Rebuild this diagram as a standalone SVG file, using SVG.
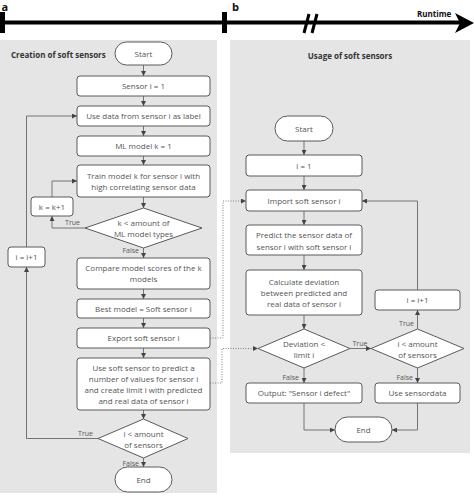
<svg xmlns="http://www.w3.org/2000/svg" width="474" height="496" viewBox="0 0 474 496">
<defs>
<style>
.panel{fill:#e5e5e5}
.box{fill:#fff;stroke:#5a5a5a;stroke-width:1}
.t{font-family:"Open Sans","Liberation Sans",sans-serif;font-size:8px;fill:#555;text-anchor:middle}
.lbl{font-family:"Open Sans","Liberation Sans",sans-serif;font-size:7px;fill:#555}
.title{font-family:"Open Sans","Liberation Sans",sans-serif;font-size:8px;font-weight:bold;fill:#333}
.ax{font-family:"Open Sans","Liberation Sans",sans-serif;font-weight:bold;fill:#111}
.c{fill:none;stroke:#666;stroke-width:0.9}
.d{fill:none;stroke:#777;stroke-width:0.9;stroke-dasharray:1 1.5}
</style>
<marker id="ah" viewBox="0 0 6 6" refX="6" refY="3" markerWidth="5" markerHeight="5" markerUnits="userSpaceOnUse" orient="auto">
<path d="M0,0 L6,3 L0,6 Z" fill="#444"/>
</marker>
</defs>

<g id="axis">
<line x1="2" y1="22.5" x2="464" y2="22.5" stroke="#000" stroke-width="4"/>
<rect x="0" y="12" width="5" height="21" fill="#000"/>
<rect x="222" y="12" width="5" height="21" fill="#000"/>
<line x1="304" y1="33" x2="309" y2="14" stroke="#000" stroke-width="3"/>
<line x1="312" y1="33" x2="317" y2="14" stroke="#000" stroke-width="3"/>
<path d="M455,13 L474,23 L455,33 L460,23 Z" fill="#000"/>
<text class="ax" x="1.5" y="10.5" font-size="11">a</text>
<text class="ax" x="232" y="10.5" font-size="11">b</text>
<text class="ax" x="417" y="17" font-size="8">Runtime</text>
</g>

<g id="panels">
<rect class="panel" x="0" y="40" width="217" height="453"/>
<rect class="panel" x="230" y="40" width="240" height="413"/>
<text class="title" x="11" y="58">Creation of soft sensors</text>
<text class="title" x="350" y="59" text-anchor="middle">Usage of soft sensors</text>
</g>

<g id="connectors">
<line class="c" x1="143.5" y1="65" x2="143.5" y2="76" marker-end="url(#ah)"/>
<line class="c" x1="143.5" y1="96" x2="143.5" y2="106" marker-end="url(#ah)"/>
<line class="c" x1="143.5" y1="126" x2="143.5" y2="136" marker-end="url(#ah)"/>
<line class="c" x1="143.5" y1="156" x2="143.5" y2="165" marker-end="url(#ah)"/>
<line class="c" x1="143.5" y1="197" x2="143.5" y2="208" marker-end="url(#ah)"/>
<line class="c" x1="143.5" y1="248" x2="143.5" y2="258" marker-end="url(#ah)"/>
<line class="c" x1="143.5" y1="289" x2="143.5" y2="299" marker-end="url(#ah)"/>
<line class="c" x1="143.5" y1="318" x2="143.5" y2="328" marker-end="url(#ah)"/>
<line class="c" x1="143.5" y1="348" x2="143.5" y2="358" marker-end="url(#ah)"/>
<line class="c" x1="143.5" y1="410" x2="143.5" y2="419" marker-end="url(#ah)"/>
<line class="c" x1="143.5" y1="458" x2="143.5" y2="467" marker-end="url(#ah)"/>
<polyline class="c" points="85,228 52,228 52,216" marker-end="url(#ah)"/>
<polyline class="c" points="52,197 52,181 77,181" marker-end="url(#ah)"/>
<polyline class="c" points="98,438.5 26.5,438.5 26.5,267" marker-end="url(#ah)"/>
<polyline class="c" points="26.5,247 26.5,116 77,116" marker-end="url(#ah)"/>
<text class="lbl" x="80" y="225" text-anchor="end">True</text>
<text class="lbl" x="139" y="253" text-anchor="end">False</text>
<text class="lbl" x="93" y="436" text-anchor="end">True</text>
<text class="lbl" x="139" y="465.5" text-anchor="end">False</text>

<polyline class="d" points="210,338 223,338 223,201 246,201" marker-end="url(#ah)"/>
<polyline class="d" points="210,383 222,383 222,348.5 258,348.5" marker-end="url(#ah)"/>

<line class="c" x1="304" y1="141" x2="304" y2="155" marker-end="url(#ah)"/>
<line class="c" x1="304" y1="176" x2="304" y2="190" marker-end="url(#ah)"/>
<line class="c" x1="304" y1="211" x2="304" y2="225" marker-end="url(#ah)"/>
<line class="c" x1="304" y1="255" x2="304" y2="270" marker-end="url(#ah)"/>
<line class="c" x1="304" y1="315" x2="304" y2="329" marker-end="url(#ah)"/>
<line class="c" x1="304" y1="368" x2="304" y2="383" marker-end="url(#ah)"/>
<line class="c" x1="350" y1="348.5" x2="371" y2="348.5" marker-end="url(#ah)"/>
<line class="c" x1="417.5" y1="329" x2="417.5" y2="310" marker-end="url(#ah)"/>
<line class="c" x1="417.5" y1="368" x2="417.5" y2="383" marker-end="url(#ah)"/>
<polyline class="c" points="417.5,290 417.5,201 362,201" marker-end="url(#ah)"/>
<polyline class="c" points="304,403 304,430 335,430" marker-end="url(#ah)"/>
<polyline class="c" points="417.5,403 417.5,430 392,430" marker-end="url(#ah)"/>
<text class="lbl" x="360" y="346" text-anchor="middle">True</text>
<text class="lbl" x="414" y="326" text-anchor="end">True</text>
<text class="lbl" x="299" y="380" text-anchor="end">False</text>
<text class="lbl" x="413" y="380" text-anchor="end">False</text>
</g>

<g id="a_start"><rect class="box" x="115" y="42" width="57" height="23" rx="11.5"/><text class="t" x="143.5" y="56.5">Start</text></g>
<g id="a_sensor1"><rect class="box" x="77" y="76" width="133" height="20" rx="3"/><text class="t" x="143.5" y="89">Sensor i = 1</text></g>
<g id="a_usedata"><rect class="box" x="77" y="106" width="133" height="20" rx="3"/><text class="t" x="143.5" y="119">Use data from sensor i as label</text></g>
<g id="a_ml1"><rect class="box" x="77" y="136" width="133" height="20" rx="3"/><text class="t" x="143.5" y="149">ML model k = 1</text></g>
<g id="a_train"><rect class="box" x="77" y="165" width="133" height="32" rx="3"/><text class="t" x="143.5" y="178.5">Train model k for sensor i with</text><text class="t" x="143.5" y="189.5">high correlating sensor data</text></g>
<g id="a_kdec"><polygon class="box" points="143.5,208 202,228 143.5,248 85,228"/><text class="t" x="143.5" y="225.5">k &lt; amount of</text><text class="t" x="143.5" y="236.5">ML model types</text></g>
<g id="a_kinc"><rect class="box" x="31" y="197" width="42" height="19" rx="3"/><text class="t" x="52" y="209.5">k = k+1</text></g>
<g id="a_iinc"><rect class="box" x="8" y="247" width="37" height="20" rx="3"/><text class="t" x="26.5" y="260">i = i+1</text></g>
<g id="a_compare"><rect class="box" x="77" y="258" width="133" height="31" rx="3"/><text class="t" x="143.5" y="271">Compare model scores of the k</text><text class="t" x="143.5" y="282">models</text></g>
<g id="a_best"><rect class="box" x="77" y="299" width="133" height="19" rx="3"/><text class="t" x="143.5" y="311.5">Best model = Soft sensor i</text></g>
<g id="a_export"><rect class="box" x="77" y="328" width="133" height="20" rx="3"/><text class="t" x="143.5" y="341">Export soft sensor i</text></g>
<g id="a_predict"><rect class="box" x="77" y="358" width="133" height="52" rx="3"/><text class="t" x="143.5" y="371">Use soft sensor to predict a</text><text class="t" x="143.5" y="382">number of values for sensor i</text><text class="t" x="143.5" y="393">and create limit i with predicted</text><text class="t" x="143.5" y="404">and real data of sensor i</text></g>
<g id="a_idec"><polygon class="box" points="143.5,419 188,438.5 143.5,458 98,438.5"/><text class="t" x="143.5" y="436.5">i &lt; amount</text><text class="t" x="143.5" y="447.5">of sensors</text></g>
<g id="a_end"><rect class="box" x="115" y="467" width="57" height="25" rx="12.5"/><text class="t" x="143.5" y="482.5">End</text></g>

<g id="b_start"><rect class="box" x="275" y="116" width="58" height="25" rx="12.5"/><text class="t" x="304" y="131.5">Start</text></g>
<g id="b_i1"><rect class="box" x="246" y="155" width="116" height="21" rx="3"/><text class="t" x="304" y="168.5">i = 1</text></g>
<g id="b_import"><rect class="box" x="246" y="190" width="116" height="21" rx="3"/><text class="t" x="304" y="203.5">Import soft sensor i</text></g>
<g id="b_predict"><rect class="box" x="246" y="225" width="116" height="30" rx="3"/><text class="t" x="304" y="238">Predict the sensor data of</text><text class="t" x="304" y="249.5">sensor i with soft sensor i</text></g>
<g id="b_calc"><rect class="box" x="246" y="270" width="116" height="45" rx="3"/><text class="t" x="304" y="285">Calculate deviation</text><text class="t" x="304" y="296">between predicted and</text><text class="t" x="304" y="307">real data of sensor i</text></g>
<g id="b_dev"><polygon class="box" points="304,329 350,348.5 304,368 258,348.5"/><text class="t" x="304" y="347">Deviation &lt;</text><text class="t" x="304" y="358">limit i</text></g>
<g id="b_idec"><polygon class="box" points="417.5,329 464,348.5 417.5,368 371,348.5"/><text class="t" x="417.5" y="347">i &lt; amount</text><text class="t" x="417.5" y="358">of sensors</text></g>
<g id="b_iinc"><rect class="box" x="375" y="290" width="85" height="20" rx="3"/><text class="t" x="417.5" y="303">i = i+1</text></g>
<g id="b_output"><rect class="box" x="246" y="383" width="116" height="20" rx="3"/><text class="t" x="304" y="396">Output: "Sensor i defect"</text></g>
<g id="b_use"><rect class="box" x="375" y="383" width="85" height="20" rx="3"/><text class="t" x="417.5" y="396">Use sensordata</text></g>
<g id="b_end"><rect class="box" x="335" y="417" width="57" height="25" rx="12.5"/><text class="t" x="363.5" y="432.5">End</text></g>
</svg>
